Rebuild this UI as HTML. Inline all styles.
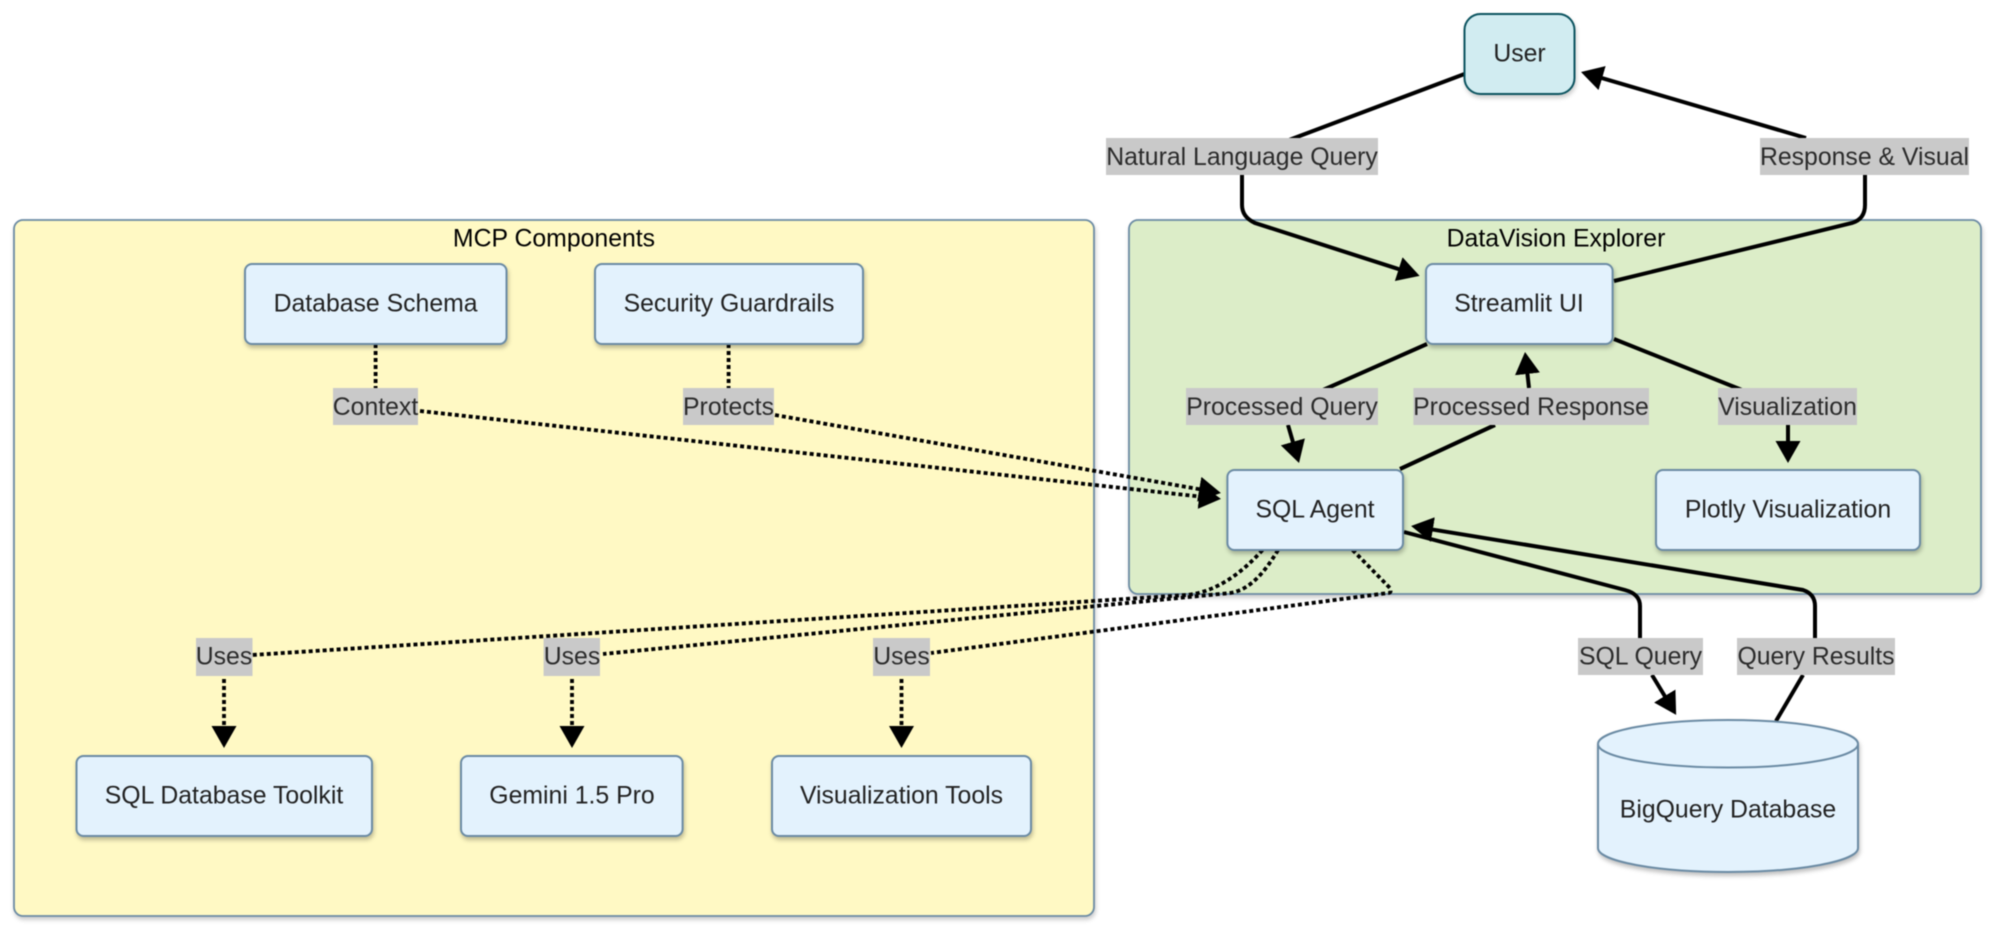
<!DOCTYPE html>
<html><head><meta charset="utf-8">
<style>
html,body{margin:0;padding:0;background:#fff;width:2000px;height:932px;overflow:hidden}
svg{display:block;filter:blur(.4px)}
text{font-family:"Liberation Sans",Arial,sans-serif;font-size:24.8px;text-anchor:middle;dominant-baseline:central;fill:#222}
.t{fill:#000}
.l{fill:#2b2b2b}
.g{stroke:#6b8ba4;stroke-width:1.8;filter:drop-shadow(1px 3px 2px rgba(0,0,0,.2))}
.n{fill:#e3f2fd;stroke:#6b8ba4;stroke-width:2;filter:drop-shadow(1px 3px 2px rgba(0,0,0,.25))}
.e{fill:none;stroke:#000;stroke-width:4}
.d{fill:none;stroke:#000;stroke-width:3.8;stroke-dasharray:4 3}
.b{fill:#c9c9c9}
</style></head><body>
<svg width="2000" height="932" viewBox="0 0 2000 932" xmlns="http://www.w3.org/2000/svg">
<defs><marker id="a" viewBox="0 0 22 25" refX="14" refY="12.5" markerWidth="22" markerHeight="25" markerUnits="userSpaceOnUse" orient="auto"><path d="M0 0L22 12.5L0 25z" fill="#000"/></marker></defs>

<rect class="g" x="14" y="220" width="1080" height="696" rx="9" fill="#fff9c4"/>
<rect class="g" x="1129" y="220" width="852" height="374" rx="9" fill="#dcedc8"/>
<text class="t" x="554" y="239">MCP Components</text>
<text class="t" x="1556" y="239">DataVision Explorer</text>

<path class="e" d="M1464.5 74L1289 140"/>
<path class="e" d="M1242 175V205Q1242 217 1255 223L1412 273.4" marker-end="url(#a)"/>
<path class="e" d="M1865 175V205Q1865 219 1852 223L1614 281"/>
<path class="e" d="M1806 138L1588.7 74.2" marker-end="url(#a)"/>
<path class="e" d="M1427 344L1323 390"/>
<path class="e" d="M1288 425L1296.8 455.3" marker-end="url(#a)"/>
<path class="e" d="M1400 469L1495 425"/>
<path class="e" d="M1529 388L1525.9 360" marker-end="url(#a)"/>
<path class="e" d="M1614 339L1742 390"/>
<path class="e" d="M1788 425V455" marker-end="url(#a)"/>
<path class="e" d="M1404 532L1625 590Q1640 594 1640 606V640"/>
<path class="e" d="M1652 675L1672 708" marker-end="url(#a)"/>
<path class="e" d="M1815 638V606Q1815 594 1803 590L1419 527.3" marker-end="url(#a)"/>
<path class="e" d="M1776 721L1803 675"/>

<path class="d" d="M375.6 344V388"/>
<path class="d" d="M728.6 344V388"/>
<path class="d" d="M420 411L1213 498" marker-end="url(#a)"/>
<path class="d" d="M775 415L1213 491.6" marker-end="url(#a)"/>
<path class="d" d="M1262.5 550C1240 575 1215 592 1187 595L252 655"/>
<path class="d" d="M1278 550C1265 572 1250 590 1230 593L603 654"/>
<path class="d" d="M1352.6 550L1390 588Q1392 593 1388 593L931 653"/>
<path class="d" d="M224 679V740" marker-end="url(#a)"/>
<path class="d" d="M572 679V740" marker-end="url(#a)"/>
<path class="d" d="M901.5 679V740" marker-end="url(#a)"/>

<rect x="1464.5" y="14" width="110" height="80" rx="16" fill="#d1ecf1" stroke="#0c5460" stroke-width="2" style="filter:drop-shadow(1px 3px 2px rgba(0,0,0,.2))"/>
<text x="1519.5" y="54">User</text>
<rect class="n" x="1426" y="264" width="186.6" height="80" rx="7"/><text x="1519" y="304">Streamlit UI</text>
<rect class="n" x="1227.4" y="470" width="175.6" height="80" rx="7"/><text x="1315" y="510">SQL Agent</text>
<rect class="n" x="1656" y="470" width="264" height="80" rx="7"/><text x="1788" y="510">Plotly Visualization</text>
<rect class="n" x="245" y="264" width="261.5" height="80" rx="7"/><text x="375.6" y="304">Database Schema</text>
<rect class="n" x="595" y="264" width="268" height="80" rx="7"/><text x="729" y="304">Security Guardrails</text>
<rect class="n" x="76.5" y="756" width="295.5" height="80" rx="7"/><text x="224" y="796">SQL Database Toolkit</text>
<rect class="n" x="461" y="756" width="221.6" height="80" rx="7"/><text x="572" y="796">Gemini 1.5 Pro</text>
<rect class="n" x="772" y="756" width="259" height="80" rx="7"/><text x="901.5" y="796">Visualization Tools</text>
<path class="n" d="M1598 744A130 24 0 0 1 1858 744V848A130 24 0 0 1 1598 848Z"/>
<path d="M1598 744A130 23.5 0 0 0 1858 744" fill="none" stroke="#6b8ba4" stroke-width="2"/>
<text x="1728" y="810">BigQuery Database</text>

<rect class="b" x="1106" y="138" width="272" height="37"/><text class="l" x="1242" y="157.5">Natural Language Query</text>
<rect class="b" x="1760" y="138" width="209" height="37"/><text class="l" x="1864.5" y="157.5">Response &amp; Visual</text>
<rect class="b" x="1186" y="388" width="192" height="37"/><text class="l" x="1282" y="407.5">Processed Query</text>
<rect class="b" x="1413.4" y="388" width="235.6" height="37"/><text class="l" x="1531" y="407.5">Processed Response</text>
<rect class="b" x="1718" y="388" width="139" height="37"/><text class="l" x="1787.5" y="407.5">Visualization</text>
<rect class="b" x="1578" y="638" width="125" height="37"/><text class="l" x="1640.5" y="657">SQL Query</text>
<rect class="b" x="1737" y="638" width="158" height="37"/><text class="l" x="1816" y="657">Query Results</text>
<rect class="b" x="333" y="388" width="85" height="37"/><text class="l" x="375.5" y="407.5">Context</text>
<rect class="b" x="683" y="388" width="91" height="37"/><text class="l" x="728.5" y="407.5">Protects</text>
<rect class="b" x="196" y="638" width="56.5" height="38"/><text class="l" x="224" y="657">Uses</text>
<rect class="b" x="543.6" y="638" width="56.4" height="38"/><text class="l" x="572" y="657">Uses</text>
<rect class="b" x="873" y="638" width="57" height="38"/><text class="l" x="901.5" y="657">Uses</text>
</svg>
</body></html>
